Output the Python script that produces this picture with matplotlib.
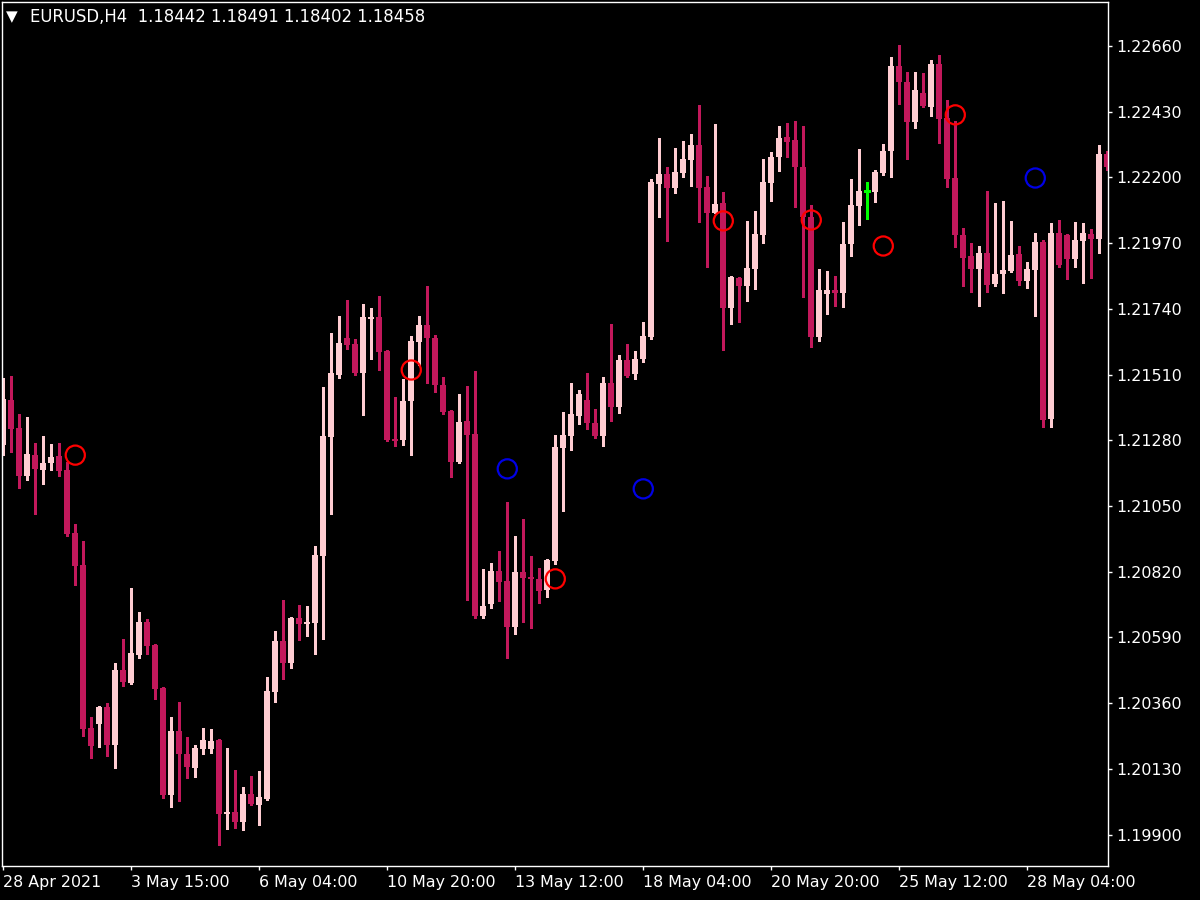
import numpy as np
import matplotlib
matplotlib.use("Agg")
import matplotlib.pyplot as plt

# --- EURUSD H4 candles ---
opens = [1.21264, 1.21421, 1.21323, 1.21155, 1.21228, 1.21176, 1.21200, 1.21225, 1.21176, 1.20956,
         1.20844, 1.20273, 1.20287, 1.20347, 1.20214, 1.20476, 1.20431, 1.20529, 1.20644, 1.20564,
         1.20413, 1.20039, 1.20263, 1.20182, 1.20133, 1.20200, 1.20198, 1.20231, 1.19972, 1.19979,
         1.19944, 1.20042, 1.20004, 1.20025, 1.20399, 1.20578, 1.20501, 1.20658, 1.20637, 1.20641,
         1.20875, 1.21292, 1.21509, 1.21638, 1.21617, 1.21516, 1.21705, 1.21712, 1.21593, 1.21285,
         1.21281, 1.21418, 1.21624, 1.21684, 1.21638, 1.21474, 1.21383, 1.21204, 1.21348, 1.21302,
         1.20665, 1.20707, 1.20823, 1.20788, 1.20627, 1.20819, 1.20802, 1.20795, 1.20756, 1.20858,
         1.21253, 1.21295, 1.21365, 1.21421, 1.21341, 1.21295, 1.21481, 1.21397, 1.21561, 1.21512,
         1.21565, 1.21642, 1.22177, 1.22212, 1.22163, 1.22216, 1.22261, 1.22314, 1.22167, 1.22076,
         1.22111, 1.21743, 1.21848, 1.21820, 1.21880, 1.21999, 1.22181, 1.22272, 1.22342, 1.22331,
         1.22237, 1.22062, 1.21642, 1.21792, 1.21806, 1.21796, 1.21967, 1.22100, 1.22151, 1.22149,
         1.22216, 1.22293, 1.22590, 1.22534, 1.22394, 1.22496, 1.22447, 1.22597, 1.22408, 1.22198,
         1.21999, 1.21925, 1.21880, 1.21936, 1.21827, 1.21862, 1.21873, 1.21932, 1.21838, 1.21876,
         1.21974, 1.21355, 1.22006, 1.21999, 1.21915, 1.21978, 1.22002, 1.21985, 1.22282]

highs = [1.21498, 1.21505, 1.21372, 1.21362, 1.21271, 1.21295, 1.21267, 1.21271, 1.21204, 1.20987,
         1.20928, 1.20312, 1.20349, 1.20361, 1.20501, 1.20585, 1.20763, 1.20679, 1.20655, 1.20567,
         1.20417, 1.20312, 1.20364, 1.20242, 1.20214, 1.20273, 1.20270, 1.20233, 1.20203, 1.20126,
         1.20067, 1.20105, 1.20123, 1.20452, 1.20613, 1.20721, 1.20660, 1.20704, 1.20700, 1.20910,
         1.21467, 1.21656, 1.21715, 1.21771, 1.21635, 1.21757, 1.21743, 1.21785, 1.21596, 1.21432,
         1.21495, 1.21645, 1.21715, 1.21820, 1.21649, 1.21502, 1.21385, 1.21442, 1.21470, 1.21523,
         1.20830, 1.20851, 1.20893, 1.21064, 1.20945, 1.21005, 1.20875, 1.20833, 1.20866, 1.21299,
         1.21379, 1.21481, 1.21456, 1.21516, 1.21390, 1.21502, 1.21687, 1.21579, 1.21617, 1.21593,
         1.21694, 1.22195, 1.22338, 1.22237, 1.22303, 1.22328, 1.22352, 1.22454, 1.22205, 1.22387,
         1.22149, 1.21854, 1.21852, 1.22048, 1.22083, 1.22265, 1.22289, 1.22380, 1.22391, 1.22398,
         1.22380, 1.22104, 1.21880, 1.21873, 1.21855, 1.22044, 1.22195, 1.22300, 1.22184, 1.22226,
         1.22317, 1.22622, 1.22664, 1.22569, 1.22569, 1.22566, 1.22611, 1.22629, 1.22471, 1.22398,
         1.22023, 1.21971, 1.21960, 1.22153, 1.22111, 1.22118, 1.22048, 1.21960, 1.21904, 1.22006,
         1.21981, 1.22041, 1.22051, 1.22001, 1.22044, 1.22041, 1.22020, 1.22314, 1.22293]

lows = [1.21228, 1.21239, 1.21113, 1.21141, 1.21022, 1.21127, 1.21176, 1.21155, 1.20945, 1.20774,
        1.20245, 1.20168, 1.20207, 1.20175, 1.20133, 1.20420, 1.20427, 1.20518, 1.20532, 1.20375,
        1.20028, 1.19997, 1.20018, 1.20098, 1.20102, 1.20182, 1.20185, 1.19864, 1.19920, 1.19923,
        1.19916, 1.20004, 1.19934, 1.20022, 1.20364, 1.20445, 1.20483, 1.20581, 1.20595, 1.20532,
        1.20585, 1.21022, 1.21498, 1.21600, 1.21509, 1.21369, 1.21565, 1.21526, 1.21278, 1.21260,
        1.21264, 1.21228, 1.21544, 1.21481, 1.21449, 1.21372, 1.21152, 1.21200, 1.20721, 1.20658,
        1.20658, 1.20693, 1.20718, 1.20518, 1.20602, 1.20644, 1.20623, 1.20711, 1.20732, 1.20847,
        1.21033, 1.21246, 1.21337, 1.21320, 1.21288, 1.21260, 1.21348, 1.21376, 1.21503, 1.21495,
        1.21554, 1.21635, 1.22062, 1.21978, 1.22146, 1.22202, 1.22170, 1.22044, 1.21887, 1.22074,
        1.21596, 1.21687, 1.21694, 1.21768, 1.21810, 1.21971, 1.22118, 1.22223, 1.22272, 1.22097,
        1.21782, 1.21607, 1.21628, 1.21722, 1.21750, 1.21747, 1.21925, 1.22034, 1.22055, 1.22114,
        1.22209, 1.22202, 1.22457, 1.22265, 1.22373, 1.22447, 1.22415, 1.22321, 1.22167, 1.21957,
        1.21820, 1.21799, 1.21750, 1.21799, 1.21820, 1.21796, 1.21869, 1.21824, 1.21813, 1.21715,
        1.21327, 1.21327, 1.21887, 1.21845, 1.21887, 1.21831, 1.21848, 1.21936, 1.22226]

closes = [1.21424, 1.21320, 1.21155, 1.21232, 1.21180, 1.21201, 1.21222, 1.21173, 1.20952, 1.20840,
          1.20270, 1.20210, 1.20347, 1.20214, 1.20476, 1.20434, 1.20536, 1.20644, 1.20560, 1.20410,
          1.20039, 1.20263, 1.20182, 1.20137, 1.20203, 1.20231, 1.20229, 1.19972, 1.19979, 1.19944,
          1.20042, 1.20007, 1.20032, 1.20403, 1.20578, 1.20501, 1.20658, 1.20637, 1.20644, 1.20879,
          1.21295, 1.21516, 1.21621, 1.21614, 1.21516, 1.21712, 1.21712, 1.21589, 1.21281, 1.21278,
          1.21418, 1.21628, 1.21684, 1.21638, 1.21474, 1.21379, 1.21204, 1.21344, 1.21299, 1.20665,
          1.20700, 1.20823, 1.20784, 1.20627, 1.20819, 1.20798, 1.20795, 1.20753, 1.20861, 1.21257,
          1.21299, 1.21372, 1.21442, 1.21341, 1.21295, 1.21481, 1.21397, 1.21561, 1.21505, 1.21565,
          1.21645, 1.22184, 1.22212, 1.22163, 1.22219, 1.22265, 1.22314, 1.22163, 1.22076, 1.22107,
          1.21743, 1.21852, 1.21820, 1.21883, 1.22002, 1.22184, 1.22272, 1.22338, 1.22324, 1.22237,
          1.22062, 1.21642, 1.21806, 1.21806, 1.21796, 1.21967, 1.22104, 1.22153, 1.22151, 1.22219,
          1.22293, 1.22590, 1.22534, 1.22394, 1.22506, 1.22450, 1.22597, 1.22405, 1.22195, 1.21999,
          1.21918, 1.21880, 1.21936, 1.21824, 1.21862, 1.21876, 1.21929, 1.21838, 1.21880, 1.21974,
          1.21351, 1.22006, 1.21894, 1.21915, 1.21981, 1.22006, 1.21985, 1.22282, 1.22237]

# indicator circles: bar index and price
red_idx = [9, 51, 69, 90, 101, 110, 119]
red_price = [1.21228, 1.21526, 1.20795, 1.22048, 1.22051, 1.21960, 1.22419]
blue_idx = [63, 80, 129]
blue_price = [1.21180, 1.21110, 1.22198]

price_ticks = [1.22660, 1.22430, 1.22200, 1.21970, 1.21740, 1.21510, 1.21280,
               1.21050, 1.20820, 1.20590, 1.20360, 1.20130, 1.19900]
date_idx = [0, 16, 32, 48, 64, 80, 96, 112, 128]
date_labels = ["28 Apr 2021", "3 May 15:00", "6 May 04:00", "10 May 20:00", "13 May 12:00",
               "18 May 04:00", "20 May 20:00", "25 May 12:00", "28 May 04:00"]

bull_color = "#FFCDD2"
bear_color = "#C2185B"
doji_color = "#00FF00"

o = np.array(opens)
h = np.array(highs)
l = np.array(lows)
c = np.array(closes)
x = np.arange(len(o))

fig = plt.figure(figsize=(12, 9), dpi=100, facecolor="black")
ax = fig.add_axes([2 / 1200, 1 - 866 / 900, 1106 / 1200, 864 / 900])
ax.set_facecolor("black")

bull = c > o
bear = c < o
doji = c == o

# wicks
ax.vlines(x[bull], l[bull], h[bull], color=bull_color, lw=1, antialiased=False)
ax.vlines(x[bear], l[bear], h[bear], color=bear_color, lw=1, antialiased=False)
ax.vlines(x[doji], l[doji], h[doji], color=doji_color, lw=1, antialiased=False)

# bodies
w = 0.72
ax.bar(x[bull], c[bull] - o[bull], bottom=o[bull], width=w, color=bull_color,
       linewidth=0, antialiased=False)
ax.bar(x[bear], o[bear] - c[bear], bottom=c[bear], width=w, color=bear_color,
       linewidth=0, antialiased=False)
ax.hlines(o[doji], x[doji] - w / 2, x[doji] + w / 2, color=doji_color, lw=1, antialiased=False)

# signal circles
ax.scatter(red_idx, red_price, s=190, facecolors="none", edgecolors="#FF0000", linewidths=1.6, zorder=5)
ax.scatter(blue_idx, blue_price, s=190, facecolors="none", edgecolors="#0000E6", linewidths=1.6, zorder=5)

ax.set_xlim(-0.16, 138.09)
ax.set_ylim(1.19790, 1.22814)

ax.yaxis.tick_right()
ax.set_yticks(price_ticks)
ax.set_yticklabels([f"{p:.5f}" for p in price_ticks])
ax.set_xticks(date_idx)
ax.set_xticklabels(date_labels)
plt.setp(ax.get_xticklabels(), ha="left")

ax.tick_params(axis="both", colors="white", labelcolor="white", labelsize=11.4,
               length=3, width=1, direction="out")
ax.tick_params(axis="y", pad=3)
ax.tick_params(axis="x", pad=3.5)
for sp in ax.spines.values():
    sp.set_color("white")
    sp.set_linewidth(1)

fig.text(6 / 1200, 1 - 17 / 900, "\u25bc", color="white", fontsize=11, va="center", ha="left")
fig.text(30 / 1200, 1 - 17 / 900, "EURUSD,H4  1.18442 1.18491 1.18402 1.18458",
         color="white", fontsize=11.9, va="center", ha="left")

fig.savefig("out.png", dpi=100, facecolor="black")
